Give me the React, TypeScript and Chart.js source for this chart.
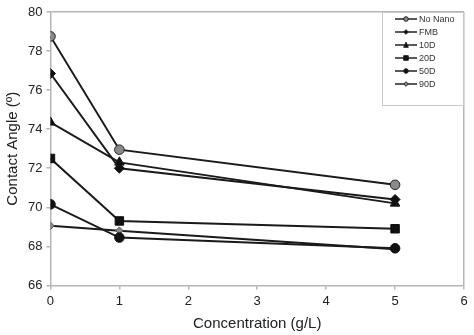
import React, { useEffect, useRef } from "react";
import { Chart, registerables } from "chart.js";

Chart.register(...registerables);

const xValues = [0, 1, 5];
const seriesNames = ["No Nano", "FMB", "10D", "20D", "50D", "90D"];
const noNano = [78.75, 72.95, 71.15];
const fmb = [76.85, 72.0, 70.4];
const d10 = [74.35, 72.3, 70.2];
const d20 = [72.5, 69.3, 68.9];
const d50 = [70.15, 68.45, 67.9];
const d90 = [69.05, 68.8, 67.85];
const xTicks = [0, 1, 2, 3, 4, 5, 6];
const yTicks = [66, 68, 70, 72, 74, 76, 78, 80];

const seriesValues = [noNano, fmb, d10, d20, d50, d90];
const markerStyles: any[] = ["circle", "rectRot", "triangle", "rect", "circle", "rectRot"];
const markerFill = ["#8a8a8a", "#111", "#111", "#111", "#111", "#8a8a8a"];
const markerBorder = ["#222", "#111", "#111", "#111", "#111", "#555"];
const markerSize = [4.8, 5, 5.5, 6, 4.8, 3.8];

const legendPlugin = {
  id: "boxLegend",
  afterDraw(chart: any) {
    const ctx = chart.ctx;
    const ca = chart.chartArea;
    const w = 82;
    const h = 94;
    const x0 = ca.right - w;
    const y0 = ca.top;
    ctx.save();
    ctx.fillStyle = "#fff";
    ctx.fillRect(x0, y0, w, h);
    ctx.strokeStyle = "#c8c8c8";
    ctx.lineWidth = 1;
    ctx.strokeRect(x0 + 0.5, y0 + 0.5, w - 1, h - 1);
    ctx.font = "9px 'Liberation Sans', Arial, sans-serif";
    ctx.textBaseline = "middle";
    seriesNames.forEach((name, i) => {
      const y = y0 + 7 + i * 13;
      const lx0 = x0 + 13;
      const lx1 = x0 + 35;
      ctx.strokeStyle = "#222";
      ctx.lineWidth = 1.5;
      ctx.beginPath();
      ctx.moveTo(lx0, y);
      ctx.lineTo(lx1, y);
      ctx.stroke();
      ctx.fillStyle = markerFill[i];
      ctx.strokeStyle = "#222";
      ctx.lineWidth = 1;
      const cx = (lx0 + lx1) / 2;
      const r = 2.3;
      ctx.beginPath();
      const st = markerStyles[i];
      if (st === "circle") ctx.arc(cx, y, r, 0, Math.PI * 2);
      else if (st === "rect") ctx.rect(cx - r, y - r, 2 * r, 2 * r);
      else if (st === "triangle") {
        ctx.moveTo(cx, y - r - 0.5);
        ctx.lineTo(cx + r, y + r);
        ctx.lineTo(cx - r, y + r);
        ctx.closePath();
      } else {
        ctx.moveTo(cx, y - r);
        ctx.lineTo(cx + r, y);
        ctx.lineTo(cx, y + r);
        ctx.lineTo(cx - r, y);
        ctx.closePath();
      }
      ctx.fill();
      ctx.stroke();
      ctx.fillStyle = "#333";
      ctx.fillText(name, lx1 + 2, y + 0.5);
    });
    ctx.restore();
  },
};

export default function App() {
  const ref = useRef<HTMLCanvasElement>(null);
  useEffect(() => {
    if (!ref.current) return;
    const chart = new Chart(ref.current, {
      type: "line",
      data: {
        datasets: seriesNames.map((name, i) => ({
          label: name,
          data: xValues.map((x, j) => ({ x, y: seriesValues[i][j] })),
          borderColor: "#1a1a1a",
          borderWidth: 2,
          pointStyle: markerStyles[i],
          pointRadius: markerSize[i],
          pointBackgroundColor: markerFill[i],
          pointBorderColor: markerBorder[i],
          pointBorderWidth: 1,
          fill: false,
          tension: 0,
        })),
      },
      options: {
        animation: false,
        responsive: false,
        layout: { padding: { top: 12, right: 10, left: 4, bottom: 2 } },
        plugins: { legend: { display: false }, tooltip: { enabled: false } },
        scales: {
          x: {
            type: "linear",
            min: 0,
            max: 6,
            afterBuildTicks: (s: any) => {
              s.ticks = xTicks.map((v) => ({ value: v }));
            },
            grid: {
              color: (c: any) => (c.tick && c.tick.value === 6 ? "#b5b5b5" : "rgba(0,0,0,0)"),
              tickColor: "#b5b5b5",
              tickLength: 4,
              lineWidth: 1.5,
            },
            border: { display: true, color: "#b5b5b5", width: 1.5 },
            ticks: {
              color: "#222",
              font: { family: "'Liberation Sans', Arial", size: 13 },
              padding: 4,
              maxRotation: 0,
            },
            title: {
              display: true,
              text: "Concentration (g/L)",
              color: "#222",
              font: { family: "'Liberation Sans', Arial", size: 15 },
              padding: { top: 2, bottom: 0 },
            },
          },
          y: {
            type: "linear",
            min: 66,
            max: 80,
            afterBuildTicks: (s: any) => {
              s.ticks = yTicks.map((v) => ({ value: v }));
            },
            grid: {
              color: (c: any) => (c.tick && c.tick.value === 80 ? "#b5b5b5" : "rgba(0,0,0,0)"),
              tickColor: "#b5b5b5",
              tickLength: 4,
              lineWidth: 1.5,
            },
            border: { display: true, color: "#b5b5b5", width: 1.5 },
            ticks: {
              color: "#222",
              font: { family: "'Liberation Sans', Arial", size: 13 },
              padding: 4,
            },
            title: {
              display: true,
              text: "Contact Angle (º)",
              color: "#222",
              font: { family: "'Liberation Sans', Arial", size: 15 },
              padding: { top: 0, bottom: 2 },
            },
          },
        },
      },
      plugins: [legendPlugin],
    } as any);
    return () => chart.destroy();
  }, []);
  return (
    <div style={{ position: "fixed", left: 0, top: 0, width: 474, height: 335, background: "#fff" }}>
      <canvas ref={ref} width={474} height={335} style={{ display: "block" }} />
    </div>
  );
}
